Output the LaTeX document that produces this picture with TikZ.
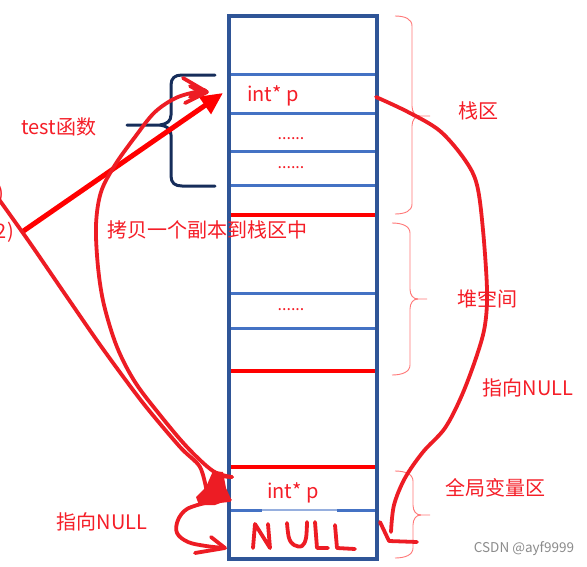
\documentclass[tikz,border=0pt]{standalone}
\usepackage{fontspec}
\setmainfont{Noto Sans CJK SC}
\usetikzlibrary{arrows.meta}
\definecolor{borderblue}{RGB}{47,85,151}
\definecolor{cellblue}{RGB}{68,114,196}
\definecolor{paleblue}{RGB}{150,175,222}
\definecolor{sepred}{RGB}{255,0,0}
\definecolor{handred}{RGB}{237,28,36}
\definecolor{txtred}{RGB}{245,30,40}
\definecolor{navy}{RGB}{22,45,90}
\definecolor{bracered}{RGB}{255,120,120}
\newcommand\drawrbrace[6]{% x0, y0, ym, y1, xv, xt
  \draw[rbrace] (#1,#2) .. controls ({#1+10},#2) and (#5,{#2+3}) .. (#5,{#2+10})
    -- (#5,{#3-10}) .. controls (#5,{#3-4}) and ({#5+3},#3) .. ({#5+8},#3) -- (#6,#3);
  \draw[rbrace] ({#5+8},#3) .. controls ({#5+3},#3) and (#5,{#3+4}) .. (#5,{#3+10})
    -- (#5,{#4-10}) .. controls (#5,{#4-3}) and ({#1+10},#4) .. (#1,#4);
}
\begin{document}
\begin{tikzpicture}[x=1pt,y=-1pt,
  lbl/.style={text=txtred,font=\fontsize{20}{24}\selectfont,inner sep=0pt},
  dotlbl/.style={text=txtred,font=\fontsize{16}{18}\selectfont,inner sep=0pt,anchor=base},
  cellline/.style={cellblue,line width=3pt},
  sepline/.style={sepred,line width=4pt},
  handline/.style={handred,line width=3.8pt,line cap=round,line join=round},
  rbrace/.style={bracered,line width=0.9pt},
  navybrace/.style={navy,line width=3pt,line cap=round},
  bigarrow/.style={sepred,line width=5pt,-{Triangle[length=22pt,width=20pt]}}]
\useasboundingbox (0,0) rectangle (587,566);
\fill[white] (0,0) rectangle (587,566);

% memory column
\foreach \yy in {74,113,151,185,293,328} \draw[cellline] (229,\yy) -- (377,\yy);
\draw[cellline] (229,510) -- (262,510);
\draw[paleblue,line width=1.5pt] (262,510) -- (337,510);
\draw[cellline] (337,510) -- (377,510);
\foreach \yy in {215,371,467} \draw[sepline] (229,\yy) -- (377,\yy);
\draw[borderblue,line width=3.5pt] (229,16) rectangle (377,559);

% texts in cells
\node[lbl] (intp1) at (273,96) {int* p};
\node[lbl] (intp2) at (293,493) {int* p};
\node[dotlbl] (dotsa) at (291,139) {......};
\node[dotlbl] (dotsb) at (291,168) {......};
\node[dotlbl] (dotsc) at (291,310) {......};

% right braces
\drawrbrace{395}{16}{116}{214}{412}{430}
\drawrbrace{392}{223}{299}{375}{410}{427}
\drawrbrace{395}{471}{515}{558}{413}{430}

% labels
\node[lbl] (stackz) at (478,111) {栈区};
\node[lbl] (heapz) at (487,299) {堆空间};
\node[lbl] (globalz) at (495,488) {全局变量区};
\node[lbl] (nullr) at (528,388) {指向NULL};
\node[lbl] (nulll) at (102,522) {指向NULL};
\node[lbl] (testfn) at (59,127) {test函数};
\node[lbl,anchor=west] (copy) at (107,230) {拷贝一个副本到栈区中};
\node[lbl,anchor=east] (two) at (14,232) {(2)};
\node[lbl,anchor=east] (one) at (4,194) {(1)};
\node[font=\fontsize{13.5}{16}\selectfont,text=black!45,inner sep=0pt] (csdn) at (524,549) {CSDN @ayf9999};

% navy brace for test function
\draw[navybrace] (215,75) -- (182,75) .. controls (175,75) and (171,78) .. (171,85)
  -- (171,115) .. controls (171,121) and (167,124) .. (160,125) -- (127,125);
\draw[navybrace] (160,125) .. controls (167,126) and (171,129) .. (171,135)
  -- (171,176) .. controls (171,183) and (175,186) .. (182,186) -- (215,186);

% thick copy arrow
\coordinate (astart) at (22,232);
\coordinate (aend) at (223,93);
\draw[bigarrow] (astart) -- (aend);

% hand-drawn curve on the right: stack p -> NULL
\draw[handline] plot[smooth,tension=0.55] coordinates {(376,97) (408,112) (440,131) (465,160) (477,185) (483,230) (487,290) (485,325) (477,355) (462,395) (445,428) (423,452) (405,478) (394,505) (391,532)};
\draw[handline] (380,522) -- (389,541) -- (417,542);

% hand-drawn curve on the left: global p -> stack p
\draw[handline] plot[smooth,tension=0.55] coordinates {(205,90) (178,97) (155,112) (135,137) (115,165) (101,192) (96,225) (98,267) (104,305) (117,347) (135,382) (160,415) (187,447) (213,471) (232,477)};
\draw[handline] (183,78) -- (207,92) -- (185,103);
\draw[handline] (190,86) -- (201,92) -- (190,97);

% hand-drawn diagonal from the left edge
\draw[handline] plot[smooth,tension=0.5] coordinates {(-2,198) (30,243) (67,297) (103,349) (143,403) (180,447) (200,467) (207,493)};

% scribbled head
\fill[handred] (213,471) -- (223,472) -- (226,488) -- (231,499) -- (215,505) -- (199,505) -- (196,497) -- (206,487) -- cycle;
\draw[handline] (217,476) -- (232,477);
\draw[handline] (200,503) -- (230,500);

% curly arrow into NULL cell
\draw[handline] plot[smooth,tension=0.6] coordinates {(205,503) (187,509) (178,520) (177,533) (188,542) (206,546) (224,548)};
\draw[handline] (211,537) -- (225,548) -- (195,553);

% handwritten NULL
\draw[handline] (253,548) -- (255,524) -- (270,548) -- (268,524);
\draw[handline] plot[smooth,tension=0.6] coordinates {(287,523) (289,538) (294,545) (302,546) (306,538) (307,522)};
\draw[handline] (315,522) -- (317,548) -- (328,548);
\draw[handline] (335,525) -- (337,548) -- (355,549);
\end{tikzpicture}
\end{document}
